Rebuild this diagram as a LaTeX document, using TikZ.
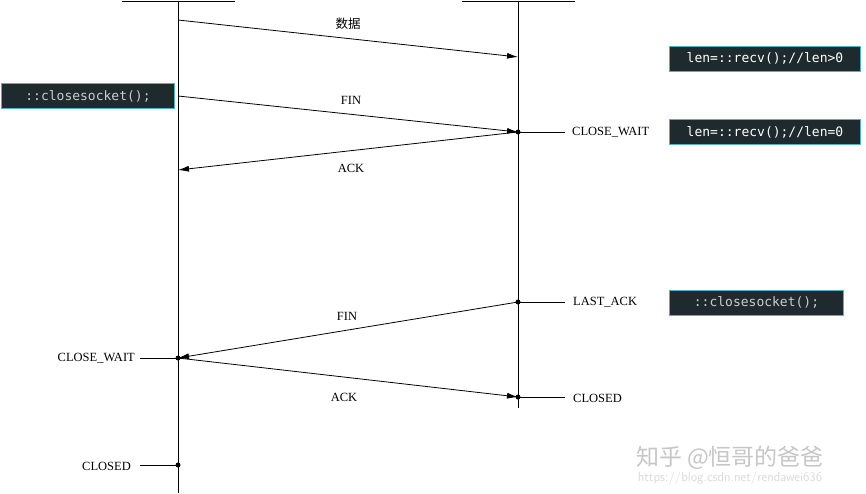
\documentclass[tikz,border=0pt]{standalone}
\usepackage{fontspec}
\setmainfont{Liberation Serif}
\newfontfamily\cjk{Noto Sans CJK SC}
\newfontfamily\codefont{DejaVu Sans Mono}
\usetikzlibrary{arrows.meta}
\definecolor{boxbg}{HTML}{1F2A2E}
\definecolor{boxbd}{HTML}{4FB3C4}
\tikzset{
  msg/.style={-{Latex[length=11pt,width=6pt]}, line width=0.8pt},
  life/.style={line width=0.8pt},
  lbl/.style={font=\fontsize{12.5}{14}\selectfont, inner sep=0pt},
  code/.style={fill=boxbg, draw=boxbd, line width=1pt, text=white, font=\codefont\fontsize{13}{15}\selectfont, inner sep=0pt, minimum height=25pt, anchor=west},
  dot/.style={circle, fill=black, inner sep=0pt, minimum size=5pt}
}
\begin{document}
\begin{tikzpicture}[x=1pt,y=-1pt]
\useasboundingbox (0,0) rectangle (866,493);
\draw[life] (122,1) -- (235,1);
\draw[life] (462,1) -- (575,1);
\coordinate (Ltop) at (178,1); \coordinate (Lbot) at (178,493);
\coordinate (Rtop) at (518,1); \coordinate (Rbot) at (518,408);
\draw[life] (Ltop) -- (Lbot);
\draw[life] (Rtop) -- (Rbot);
\coordinate (a1) at (178,20); \coordinate (b1) at (518,57);
\coordinate (a2) at (178,96); \node[dot] (b2) at (518,132) {};
\coordinate (a3) at (178,170);
\node[dot] (b4) at (518,302) {};
\node[dot] (a4) at (178,358) {};
\node[dot] (b5) at (518,397) {};
\node[dot] (a6) at (178,465) {};
\draw[msg] (a1) -- (b1);
\draw[msg] (a2) -- (b2.center);
\draw[msg] (b2.center) -- (a3);
\draw[msg] (b4.center) -- (a4.center);
\draw[msg] (a4.center) -- (b5.center);
\node[lbl, font=\cjk\fontsize{12.5}{14}\selectfont] (t1) at (348,24) {数据};
\node[lbl] (t2) at (351,100) {FIN};
\node[lbl] (t3) at (351,168) {ACK};
\node[lbl] (t4) at (347,316) {FIN};
\node[lbl] (t5) at (344,397) {ACK};
\coordinate (s1) at (565,132); \draw[life] (b2.center) -- (s1);
\node[lbl, anchor=west] (st1) at (572,132) {CLOSE\_WAIT};
\coordinate (s2) at (565,302); \draw[life] (b4.center) -- (s2);
\node[lbl, anchor=west] (st2) at (573,302) {LAST\_ACK};
\coordinate (s3) at (565,397); \draw[life] (b5.center) -- (s3);
\node[lbl, anchor=west] (st3) at (573,398) {CLOSED};
\coordinate (s4) at (140,358); \draw[life] (s4) -- (a4.center);
\node[lbl, anchor=east] (st4) at (135,358) {CLOSE\_WAIT};
\coordinate (s5) at (140,465); \draw[life] (s5) -- (a6.center);
\node[lbl, anchor=east] (st5) at (131,466) {CLOSED};
\node[code, minimum width=173pt, text=gray!40] (c1) at (1,96) {::closesocket();};
\node[code, minimum width=191pt] (c2) at (669,58.5) {len=::recv();//len>0};
\node[code, minimum width=191pt] (c3) at (669,132) {len=::recv();//len=0};
\node[code, minimum width=174pt, text=gray!40] (c4) at (669,302.5) {::closesocket();};
\node[inner sep=0pt, text=gray!45, font=\cjk\fontsize{23}{26}\selectfont] (w1) at (730,458) {知乎 @恒哥的爸爸};
\node[inner sep=0pt, text=gray!30, font=\fontsize{13}{15}\selectfont\sffamily] (w2) at (730,478) {https://blog.csdn.net/rendawei636};
\end{tikzpicture}
\end{document}
